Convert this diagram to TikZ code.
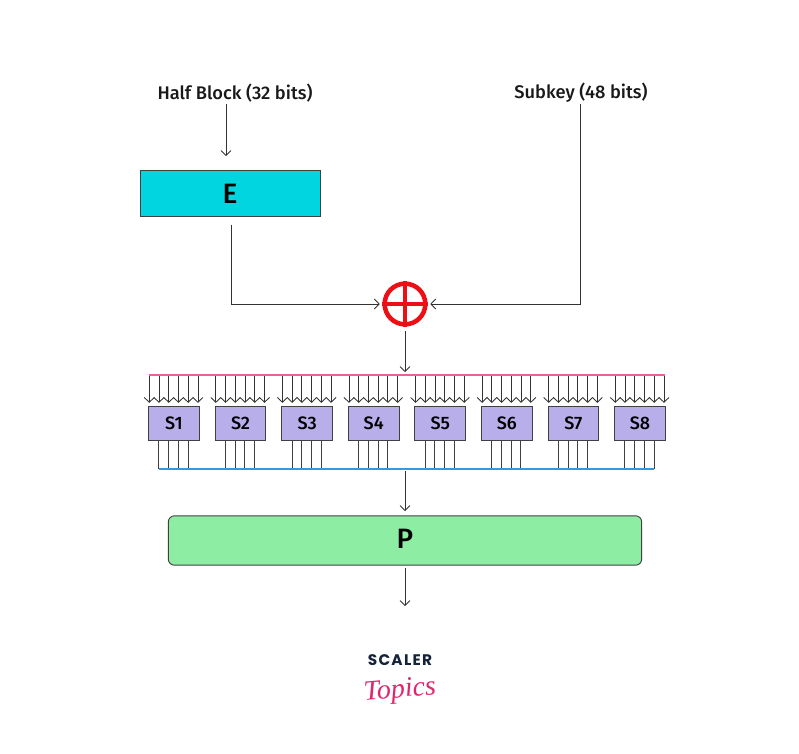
\documentclass[tikz,border=0pt]{standalone}
\usepackage{fontspec}
\setmainfont{Fira Sans}
\newfontfamily\medfont{Fira Sans Medium}
\newfontfamily\logofont{Poppins}
\newfontfamily\topicsfont{Liberation Serif}
\usetikzlibrary{positioning,arrows.meta}
\definecolor{ecyan}{HTML}{00D5E0}
\definecolor{pgreen}{HTML}{8DEDA3}
\definecolor{sviolet}{HTML}{B7AEEA}
\definecolor{barpink}{HTML}{EE5F96}
\definecolor{barblue}{HTML}{2E9BE6}
\definecolor{xorred}{HTML}{EC0F15}
\definecolor{logonavy}{HTML}{14233A}
\definecolor{logopink}{HTML}{E0246E}

\begin{document}
\begin{tikzpicture}[
    x=0.75pt, y=0.75pt,
    node distance=0pt and 11.23pt,
    title/.style={font=\medfont\fontsize{13.7}{16}\selectfont, text=black!90},
    ebox/.style={draw=black!75, line width=0.7pt, fill=ecyan, minimum width=135pt, minimum height=34pt, font=\medfont\fontsize{21}{24}\selectfont},
    sbox/.style={draw=black!75, line width=0.7pt, fill=sviolet, minimum width=38pt, minimum height=25.5pt, font=\medfont\fontsize{13.5}{16}\selectfont},
    pbox/.style={draw=black!75, line width=0.7pt, fill=pgreen, rounded corners=4.5pt, minimum width=355pt, minimum height=37pt, text depth=3pt, font=\medfont\fontsize{21}{24}\selectfont},
    xorgate/.style={draw=xorred, line width=3.4pt, circle, minimum size=30.5pt, inner sep=0pt},
    line/.style={-{Straight Barb[length=3.6pt,width=7.5pt]}, black!80, line width=0.65pt},
    wire/.style={black!75, line width=0.7pt},
    inbus/.style={barpink, line width=1.5pt},
    outbus/.style={barblue, line width=1.5pt}
]
\useasboundingbox (0,0) rectangle (799,-753);

% top inputs
\node[title] (half) at (235,-93) {Half Block (32 bits)};
\node[title] (subkey) at (581,-93) {Subkey (48 bits)};
\node[ebox] (e) at (230,-193.5) {E};
\node[xorgate] (xor) at (405,-304) {};
\draw[xorred, line width=3.4pt] (xor.north) -- (xor.south);
\draw[xorred, line width=3.4pt] (xor.west) -- (xor.east);

\coordinate (halfout) at (226,-104);
\coordinate (halfin) at (226,-156);
\coordinate (subout) at (580,-104);
\draw[line] (halfout) -- (halfin);
\draw[line, shorten <=6pt, shorten >=2pt] ([xshift=1pt]e.south) |- (xor);
\draw[line, shorten >=2pt] (subout) |- (xor);

% s-boxes
\node[sbox] (s1) at (174,-423) {S1};
\foreach \i [remember=\i as \prev (initially 1)] in {2,...,8}
    \node[sbox, right=of s\prev] (s\i) {S\i};

\coordinate (inleft) at (149,-375);
\coordinate (inright) at (665,-375);
\coordinate (outleft) at (159,-469);
\coordinate (outright) at (654,-469);

\foreach \i in {1,...,8}{
    \foreach \k in {0,...,5}{
        \coordinate (top) at ([xshift=0.8pt+\k*7.3pt]s\i.north west);
        \draw[line, shorten >=2pt] (top |- inleft) -- (top);
    }
    \foreach \k in {0,...,3}{
        \coordinate (bot) at ([xshift=8pt+\k*7.3pt]s\i.south west);
        \draw[wire] (bot) -- (bot |- outleft);
    }
}
\draw[inbus] (inleft) -- (inright);
\draw[outbus] (outleft) -- (outright);

% bottom
\node[pbox] (p) at (405,-540.5) {P};
\coordinate (xorbus) at (405,-372);
\coordinate (pbusout) at (405,-471);
\coordinate (pin) at (405,-511);
\coordinate (pend) at (405,-606);
\draw[line, shorten <=2.5pt] (xor) ++(0,-24) -- (xorbus);
\draw[line] (pbusout) -- (pin);
\draw[line, shorten <=1.5pt] (p) ++(0,-25) -- (pend);

% logo
\node[font=\logofont\fontsize{11.5}{13}\selectfont\bfseries\addfontfeature{LetterSpace=8}, text=logonavy, inner sep=0pt] (scaler) at (400,-660) {SCALER};
\node[font=\topicsfont\itshape\fontsize{21}{24}\selectfont, text=logopink, rotate=5, inner sep=0pt] (topics) at (400,-691) {Topics};
\end{tikzpicture}
\end{document}
